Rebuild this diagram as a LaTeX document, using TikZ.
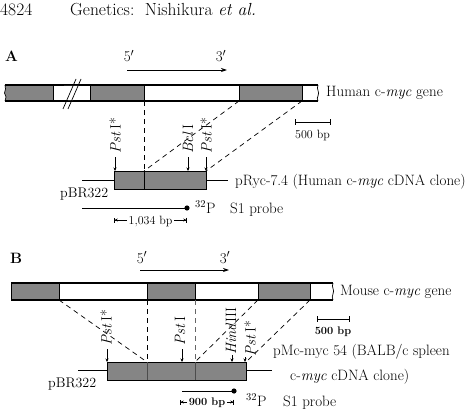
\documentclass[tikz,border=0pt]{standalone}
\usepackage{fontspec}
\usetikzlibrary{arrows.meta}
\begin{document}
\begin{tikzpicture}[x=1pt,y=-1pt,
  shd/.style={draw=black, line width=0.7pt, fill=black!48},
  barline/.style={line width=1.1pt},
  dline/.style={dash pattern=on 5pt off 4pt, line width=0.7pt},
  lbl/.style={font=\fontsize{15}{17}\selectfont, inner sep=0pt},
  hdr/.style={font=\fontsize{17.5}{19}\selectfont, inner sep=0pt},
  small/.style={font=\fontsize{12}{14}\selectfont, inner sep=0pt},
  site/.style={rotate=90, anchor=west, inner sep=0pt, font=\fontsize{15}{17}\selectfont},
  cut/.style={-{Stealth[length=3.5pt,width=3pt]}, line width=0.6pt},
  dir/.style={-{Stealth[length=6pt,width=4pt]}, line width=0.8pt},
  thin/.style={line width=0.7pt}
]
\useasboundingbox (0,0) rectangle (474,412);

% header
\node[hdr, anchor=base west] (pg) at (0,16) {4824};
\node[hdr, anchor=base west] (jn) at (70,16) {Genetics:\ \ Nishikura \textit{et al.}};

% ================= Panel A =================
\node[lbl, anchor=base west, font=\fontsize{15}{17}\selectfont\bfseries] (A) at (5,62) {A};
\node[lbl, anchor=base] (a5) at (129,62) {5$'$};
\node[lbl, anchor=base] (a3) at (221,62) {3$'$};
\coordinate (aar1) at (127,70);
\coordinate (aar2) at (227,70);
\draw[dir] (aar1) -- (aar2);

% gene bar A
\fill[black!48] (5,85) -- (53,85) -- (53,101) -- (5,101) -- (6,97) -- (4.5,93) -- (5.5,89) -- cycle;
\draw[shd] (90,85) rectangle (144,101);
\draw[shd] (239,85) rectangle (302,101);
\draw[barline] (5,85) -- (318,85);
\draw[barline] (5,101) -- (318,101);
\draw[thin] (53,85) -- (53,101);
\draw[thin] (5,85) -- (5.5,89) -- (4.5,93) -- (6,97) -- (5,101);
\draw[thin] (318,85) .. controls (316,89) and (320,92) .. (318,96)
                     .. controls (317,98) .. (318,101);
% break marks
\fill[white] (64,86) -- (79,86) -- (73,100) -- (68,100) -- cycle;
\draw[thin] (63,109) -- (76,79);
\draw[thin] (68,109) -- (81,79);
\node[lbl, anchor=west] (agene) at (326,93) {Human c-\textit{myc} gene};

% scale bar A
\coordinate (asb1) at (295,122);
\coordinate (asb2) at (330,122);
\draw[thin] (asb1) -- (asb2);
\draw[thin] (295,119) -- (295,125);
\draw[thin] (330,119) -- (330,125);
\node[small, anchor=base] (a500) at (312.5,138) {500 bp};

% insert A
\coordinate (aL) at (82,180);
\coordinate (aR) at (228,180);
\draw[thin] (aL) -- (114,180);
\draw[thin] (206,180) -- (aR);
\draw[shd] (114,171) rectangle (206,189);
\draw[line width=0.9pt] (144,171) -- (144,189);
\node[lbl, anchor=base west] (aclone) at (235,185) {pRyc-7.4 (Human c-\textit{myc} cDNA clone)};
\node[lbl, anchor=base west, font=\fontsize{14}{16}\selectfont] (apbr) at (60,197) {pBR322};

% dashed connectors A
\coordinate (ag1) at (144,101);
\coordinate (ag2) at (239,101);
\coordinate (ag3) at (302,101);
\coordinate (ai1) at (144,171);
\coordinate (ai2) at (206,171);
\draw[dline] (ag1) -- (ai1);
\draw[dline] (ag2) -- (ai1);
\draw[dline] (ag3) -- (ai2);

% sites A
\node[site] (as1) at (115,154) {\textit{Pst}\,I*};
\node[site] (as2) at (188,154) {\textit{Bcl}\,I};
\node[site] (as3) at (206,154) {\textit{Pst}\,I*};
\draw[cut] (115,157) -- (115,171);
\draw[cut] (188,157) -- (188,171);
\draw[cut] (206,157) -- (206,171);

% probe A
\coordinate (ap1) at (82,208);
\coordinate (ap2) at (187,208);
\draw[line width=0.9pt] (ap1) -- (ap2);
\fill (ap2) circle (2.6);
\node[lbl, anchor=base west] (a32) at (195,213) {\textsuperscript{32}P};
\node[lbl, anchor=base west] (as1p) at (230,213) {S1 probe};
\coordinate (ad1) at (114,220);
\coordinate (ad2) at (187,220);
\draw[thin, {Bar[width=5pt]Stealth[length=3pt,width=3pt]}-{Stealth[length=3pt,width=3pt]Bar[width=5pt]}] (ad1) -- (ad2);
\node[small, anchor=base, fill=white, inner xsep=1.5pt, inner ysep=1pt] (a1034) at (150.5,224) {1,034 bp};

% ================= Panel B =================
\node[lbl, anchor=base west, font=\fontsize{15}{17}\selectfont\bfseries] (B) at (10,263) {B};
\node[lbl, anchor=base] (b5) at (142,263) {5$'$};
\node[lbl, anchor=base] (b3) at (225,263) {3$'$};
\coordinate (bar1) at (140,270);
\coordinate (bar2) at (229,270);
\draw[dir] (bar1) -- (bar2);

% gene bar B
\fill[black!48] (11,283) rectangle (59,300);
\draw[shd] (147,283) rectangle (195,300);
\draw[shd] (258,283) rectangle (310,300);
\draw[barline] (11,283) -- (333,283);
\draw[barline] (11,300) -- (333,300);
\draw[thin] (59,283) -- (59,300);
\draw[thin] (11,283) -- (11,300);
\draw[thin] (333,283) .. controls (331,287) and (335,290) .. (333,294)
                     .. controls (332,297) .. (333,300);
\node[lbl, anchor=west] (bgene) at (340,292) {Mouse c-\textit{myc} gene};

% scale bar B
\coordinate (bsb1) at (317,319);
\coordinate (bsb2) at (349,319);
\draw[thin] (bsb1) -- (bsb2);
\draw[thin] (317,316) -- (317,322);
\draw[thin] (349,316) -- (349,322);
\node[small, anchor=base, font=\fontsize{11}{13}\selectfont\bfseries] (b500) at (333,334) {500 bp};

% insert B
\coordinate (bL) at (78,370);
\coordinate (bR) at (272,370);
\draw[thin] (bL) -- (107,370);
\draw[thin] (246,370) -- (bR);
\draw[shd] (107,362) rectangle (246,380);
\draw[line width=0.5pt, black!70] (147,362) -- (147,380);
\draw[line width=0.5pt, black!70] (195,362) -- (195,380);
\node[lbl, anchor=base west] (bclone1) at (273,355) {pMc-myc 54 (BALB/c spleen};
\node[lbl, anchor=base west] (bclone2) at (290,380) {c-\textit{myc} cDNA clone)};
\node[lbl, anchor=base west, font=\fontsize{14}{16}\selectfont] (bpbr) at (48,387) {pBR322};

% dashed connectors B
\coordinate (bg1) at (59,300);
\coordinate (bg2) at (147,300);
\coordinate (bg3) at (195,300);
\coordinate (bg4) at (258,300);
\coordinate (bg5) at (310,300);
\coordinate (bi1) at (147,362);
\coordinate (bi2) at (195,362);
\coordinate (bi3) at (246,362);
\draw[dline] (bg1) -- (bi1);
\draw[dline] (bg2) -- (bi1);
\draw[dline, black!60] (bg3) -- (bi2);
\draw[dline] (bg4) -- (bi2);
\draw[dline] (bg5) -- (bi3);

% sites B
\node[site] (bs1) at (106,346) {\textit{Pst}\,I*};
\node[site] (bs2) at (180,346) {\textit{Pst}\,I};
\node[site] (bs3) at (231,355) {\textit{Hind}III};
\node[site] (bs4) at (250,357) {\textit{Pst}\,I*};
\draw[cut] (107,349) -- (107,362);
\draw[cut] (182,349) -- (182,362);
\draw[cut] (232,355) -- (232,362);
\draw[cut] (245,357) -- (245,362);

% probe B
\coordinate (bp1) at (182,391);
\coordinate (bp2) at (234,391);
\draw[line width=0.9pt] (bp1) -- (bp2);
\fill (bp2) circle (2.6);
\node[lbl, anchor=base west] (b32) at (246,406) {\textsuperscript{32}P};
\node[lbl, anchor=base west] (bs1p) at (283,406) {S1 probe};
\coordinate (bd1) at (180,402);
\coordinate (bd2) at (234,402);
\draw[thin, {Bar[width=5pt]Stealth[length=3pt,width=3pt]}-{Stealth[length=3pt,width=3pt]Bar[width=5pt]}] (bd1) -- (bd2);
\node[small, anchor=base, fill=white, inner xsep=1.5pt, inner ysep=1pt, font=\fontsize{11}{13}\selectfont\bfseries] (b900) at (207,405) {900 bp};

\end{tikzpicture}
\end{document}
